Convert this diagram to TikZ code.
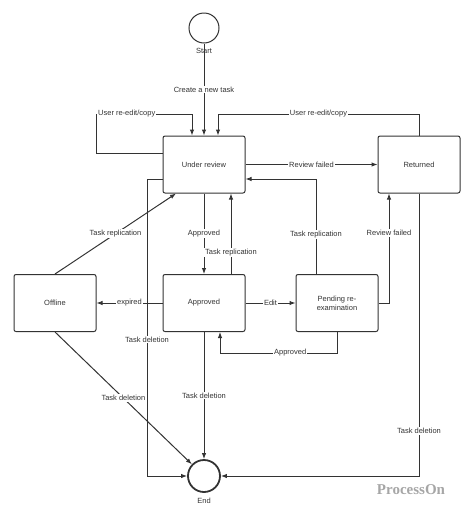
\documentclass[tikz,border=0pt]{standalone}
\usepackage{fontspec}
\setmainfont{Liberation Sans}
\newfontfamily\wmfont{Liberation Serif}
\usetikzlibrary{arrows.meta}
\definecolor{ink}{HTML}{333333}
\begin{document}
\begin{tikzpicture}[x=1pt, y=-1pt, line width=1pt, draw=ink, text=ink,
  state/.style={draw, rounded corners=2pt, minimum width=82pt, minimum height=57pt, align=center, font=\fontsize{7.5}{9}\selectfont},
  lbl/.style={fill=white, inner sep=1pt, font=\fontsize{7.5}{8.5}\selectfont},
  arr/.style={-{Latex[length=6pt, width=4.5pt]}}]
\useasboundingbox (0,0) rectangle (474,523);
\node[circle, draw, minimum size=30pt, inner sep=0pt] (start) at (204,28) {};
\node[font=\fontsize{7.5}{8.5}\selectfont] (startlbl) at (204,51) {Start};
\node[state] (review) at (204,164.5) {Under review};
\node[state] (returned) at (419,164.5) {Returned};
\node[state] (offline) at (55,303) {Offline};
\node[state] (approved) at (204,303) {Approved};
\node[state] (pending) at (337,303) {Pending re-\\examination};
\node[circle, draw, line width=1.8pt, minimum size=32pt, inner sep=0pt] (finish) at (204,476) {};
\node[font=\fontsize{7.5}{8.5}\selectfont] (finishlbl) at (204,501) {End};
\node[text=black!35, font=\wmfont\bfseries\fontsize{15}{15}\selectfont] (mark) at (411,490) {ProcessOn};
\coordinate (leftup) at (96,114);
\coordinate (rightup) at (419,114);
\coordinate (delcorner) at (147,476);
\coordinate (backcorner) at (337,353);
\draw[arr] (start) -- node[lbl]{Create a new task} (review);
\draw[arr] ([yshift=11.5pt]review.west) -| (leftup) -| node[lbl, pos=0.16]{User re-edit/copy} ([xshift=-12pt]review.north);
\draw[arr] (returned.north) -- (rightup) -| node[lbl, pos=0.25]{User re-edit/copy} ([xshift=14pt]review.north);
\draw[arr] (review) -- node[lbl]{Review failed} (returned);
\draw[arr] ([xshift=-21pt]pending.north) |- node[lbl, pos=0.21]{Task replication} ([yshift=-14.5pt]review.east);
\draw[arr] (review) -- node[lbl]{Approved} (approved);
\draw[arr] ([xshift=27pt]approved.north) -- node[lbl, pos=0.27]{Task replication} ([xshift=27pt]review.south);
\draw[arr] (offline.north) -- node[lbl]{Task replication} ([xshift=-28pt]review.south);
\draw[arr] (approved) -- node[lbl]{expired} (offline);
\draw[arr] (approved) -- node[lbl]{Edit} (pending);
\draw[arr] (pending.east) -| node[lbl, pos=0.82]{Review failed} ([xshift=-30pt]returned.south);
\draw[arr] (pending.south) -- (backcorner) -| node[lbl, pos=0.2]{Approved} ([xshift=16pt]approved.south);
\draw[arr] ([yshift=-14.5pt]review.west) -| node[lbl, pos=0.77]{Task deletion} (delcorner) -- (finish);
\draw[arr] (approved) -- node[lbl]{Task deletion} (finish);
\draw[arr] (offline.south) -- node[lbl]{Task deletion} (finish);
\draw[arr] (returned.south) |- node[lbl, pos=0.42]{Task deletion} (finish);
\end{tikzpicture}
\end{document}
